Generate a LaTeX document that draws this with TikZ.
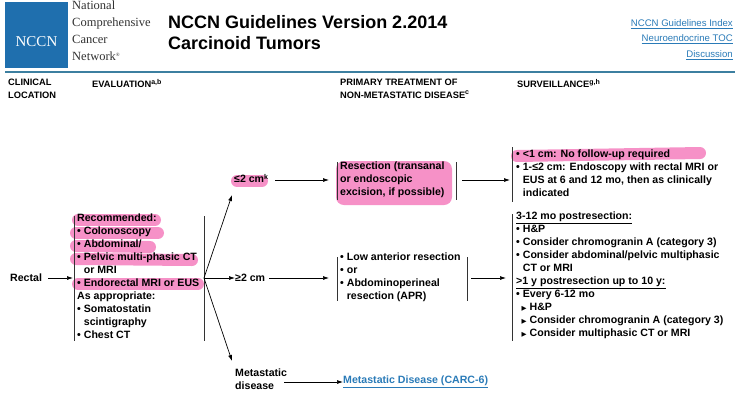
\documentclass[tikz,border=0pt]{standalone}
\usepackage{fontspec}
\setmainfont{Liberation Sans}
\newfontfamily\serifx{Liberation Serif}
\newfontfamily\dejav{DejaVu Sans}
\usetikzlibrary{arrows.meta}
\definecolor{ncblue}{HTML}{1F6FAE}
\definecolor{linkb}{HTML}{2A7BB8}
\definecolor{hl}{HTML}{F46DB5}
\definecolor{rule}{HTML}{3C7FA0}
\newcommand{\tri}{\raisebox{0.8pt}{\dejav\fontsize{6.5}{6}\selectfont ▶}}
\newcommand{\sps}[1]{\raisebox{3.5pt}{\fontsize{7}{7}\selectfont #1}}
\begin{document}
\begin{tikzpicture}[x=1pt,y=-1pt,
  txt/.style={anchor=north west,inner sep=0pt,align=left,font=\bfseries\fontsize{10.6}{13}\selectfont},
  hdr/.style={anchor=north west,inner sep=0pt,align=left,font=\bfseries\fontsize{9.3}{12.5}\selectfont},
  lnk/.style={anchor=east,inner sep=0pt,font=\fontsize{9.6}{10}\selectfont,text=linkb},
  arr/.style={-{Latex[length=6pt,width=4pt]},line width=0.7pt},
  brk/.style={line width=0.8pt,draw=black!80},
  hil/.style={line width=12pt,line cap=round,draw=hl,opacity=0.75}]
\useasboundingbox (0,0) rectangle (740,400);
\fill[white] (0,0) rectangle (740,400);
% header
\fill[ncblue] (5,2) rectangle (68,68);
\node[text=white,font=\serifx\fontsize{15}{15}\selectfont] (logo) at (36.5,42) {NCCN};
\node[anchor=north west,inner sep=0pt,align=left,font=\serifx\fontsize{12.5}{17}\selectfont,text=black!80] (org) at (72,1) {National\\Comprehensive\\Cancer\\Network\textsuperscript{\tiny®}};
\node[anchor=north west,inner sep=0pt,align=left,font=\bfseries\fontsize{18}{21}\selectfont] (title) at (168,15) {NCCN Guidelines Version 2.2014\\Carcinoid Tumors};
\node[lnk] (l1) at (733,24) {\underline{NCCN Guidelines Index}};
\node[lnk] (l2) at (733,39.5) {\underline{Neuroendocrine TOC}};
\node[lnk] (l3) at (733,55) {\underline{Discussion}};
\draw[rule,line width=2pt] (5,72) -- (735,72);
\node[hdr] (h1) at (8,79) {CLINICAL\\LOCATION};
\node[hdr] (h2) at (92,79) {EVALUATION\sps{a,b}};
\node[hdr] (h3) at (340,79) {PRIMARY TREATMENT OF\\NON-METASTATIC DISEASE\sps{c}};
\node[hdr] (h4) at (517,79) {SURVEILLANCE\sps{g,h}};
% highlights
\draw[hil] (78,220) -- (155,220);
\draw[hil] (76,233) -- (158,233);
\draw[hil] (76,246) -- (150,247);
\draw[hil] (76,259) -- (192,260);
\draw[hil] (78,284) -- (198,284);
\draw[hil] (237,181) -- (262,181);
\fill[hl,opacity=0.75,rounded corners=8pt] (336,161) rectangle (452,205);
\draw[hil] (517,156) -- (700,153);
% nodes
\node[txt,anchor=west] (rectal) at (10,278) {Rectal};
\draw[brk] (74,216) -- (74,341);
\node[txt] (eval) at (77,214) {Recommended:\\• Colonoscopy\\• Abdominal/\\• Pelvic multi-phasic CT\\\phantom{• }or MRI\\• Endorectal MRI or EUS\\As appropriate:\\• Somatostatin\\\phantom{• }scintigraphy\\• Chest CT};
\draw[brk] (204,216) -- (204,341);
\coordinate (split) at (204,278);
\coordinate (evin) at (73,278);
\node[txt] (le2) at (234,174) {≤2 cm\sps{k}};
\node[txt,anchor=west] (ge2) at (235,278) {≥2 cm};
\node[txt] (meta) at (235,369) {Metastatic\\disease};
\draw[arr] (rectal.east) ++(6,0) -- (evin);
\draw[arr] (split) -- (232,195);
\draw[arr] (split) -- (ge2.west);
\draw[arr] (split) -- (232,361);
% <=2 branch
\draw[brk] (337,162) -- (337,200);
\node[txt] (res) at (340,162) {Resection (transanal\\or endoscopic\\excision, if possible)};
\draw[brk] (456,162) -- (456,200);
\draw[arr] (275,180) -- (329,180);
\draw[arr] (462,180) -- (510,180);
\draw[brk] (512,147) -- (512,202);
\node[txt] (s1) at (516,150) {• <1 cm: No follow-up required\\• 1-≤2 cm: Endoscopy with rectal MRI or\\\phantom{• }EUS at 6 and 12 mo, then as clinically\\\phantom{• }indicated};
% >=2 branch
\draw[arr] (ge2.east) ++(4,0) -- (329,278);
\draw[brk] (337,257) -- (337,301);
\node[txt] (lar) at (340,253) {• Low anterior resection\\• or\\• Abdominoperineal\\\phantom{• }resection (APR)};
\draw[brk] (467,257) -- (467,301);
\draw[arr] (471,278) -- (506,278);
\draw[brk] (512,214) -- (512,341);
\node[txt] (s2) at (516,212) {\underline{3-12 mo postresection:}\\• H\&P\\• Consider chromogranin A (category 3)\\• Consider abdominal/pelvic multiphasic\\\phantom{• }CT or MRI\\\underline{>1 y postresection up to 10 y:}\\• Every 6-12 mo\\\phantom{•}\,\tri\ H\&P\\\phantom{•}\,\tri\ Consider chromogranin A (category 3)\\\phantom{•}\,\tri\ Consider multiphasic CT or MRI};
% metastatic
\node[txt,anchor=west,text=linkb] (carc) at (343,382) {\underline{Metastatic Disease (CARC-6)}};
\draw[arr] (284,382) -- (carc.west);
\end{tikzpicture}
\end{document}
